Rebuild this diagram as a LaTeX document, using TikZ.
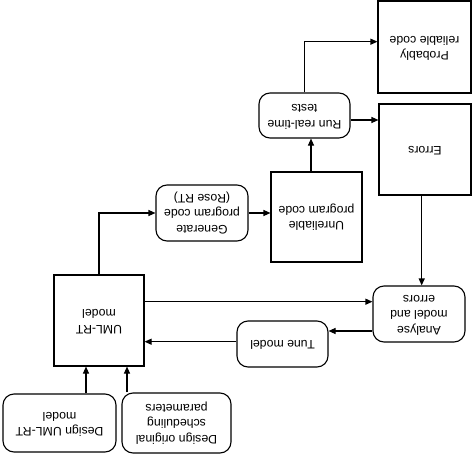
\documentclass[tikz,border=0pt]{standalone}
\usepackage{fontspec}
\setmainfont{Liberation Sans}
\usepackage{graphicx}
\usetikzlibrary{arrows.meta}
\newcommand{\flip}[1]{\rotatebox[origin=c]{180}{\begin{tabular}{@{}c@{}}#1\end{tabular}}}
\tikzset{
  box/.style={draw, line width=1.1pt, rectangle, inner sep=0pt, font=\fontsize{12.3}{15.5}\selectfont},
  rbox/.style={box, rounded corners=11pt},
  arr/.style={line width=1.1pt, -{Triangle[length=7pt,width=6pt]}}
}
\begin{document}
\begin{tikzpicture}[x=1pt,y=-1pt]
\useasboundingbox (0,0) rectangle (474,455);
\node[box, minimum width=90pt, minimum height=91pt] (uml) at (99,320.5) {\flip{UML-RT\\model}};
\node[rbox, minimum width=113pt, minimum height=58pt] (dum) at (59.5,423) {\flip{Design UML-RT\\model}};
\node[rbox, minimum width=109pt, minimum height=60pt] (dos) at (176.5,423) {\flip{Design original\\scheduling\\parameters}};
\node[rbox, minimum width=92pt, minimum height=56pt] (ana) at (419,314) {\flip{Analyse\\model and\\errors}};
\node[rbox, minimum width=91pt, minimum height=46pt] (tune) at (282.5,344) {\flip{Tune model}};
\node[rbox, minimum width=92pt, minimum height=56pt] (gen) at (202,213) {\flip{Generate\\program code\\(Rose RT)}};
\node[box, minimum width=91pt, minimum height=90pt] (unr) at (316.5,217) {\flip{Unreliable\\program code}};
\node[rbox, minimum width=91pt, minimum height=45pt] (run) at (304.5,115.5) {\flip{Run real-time\\tests}};
\node[box, minimum width=92pt, minimum height=91pt] (err) at (425,149.5) {\flip{Errors}};
\node[box, minimum width=93pt, minimum height=92pt] (prob) at (424.5,47) {\flip{Probably\\reliable code}};

\draw[arr] ([xshift=26.5pt]dum.north) -- ([xshift=26.5pt]dum.north |- uml.south);
\draw[arr] ([xshift=-49.5pt]dos.north) -- ([xshift=-49.5pt]dos.north |- uml.south);
\draw[arr] (uml.north) |- (gen.west);
\draw[arr] (gen.east) -- (gen.east -| unr.west);
\draw[arr] ([xshift=-5.5pt]unr.north) -- ([xshift=-5.5pt]unr.north |- run.south);
\draw[arr] (run.north) |- ([yshift=5.3pt]prob.west);
\draw[arr] ([yshift=-4.5pt]run.east) -- ([yshift=-4.5pt]run.east -| err.west);
\draw[arr] ([xshift=-3.3pt]err.south) -- ([xshift=-3.3pt]err.south |- ana.north);
\draw[arr] ([yshift=18.8pt]uml.east) -- ([yshift=18.8pt]uml.east -| ana.west);
\draw[arr] ([yshift=-17pt]ana.west) -- ([yshift=-17pt]ana.west -| tune.east);
\draw[arr] ([yshift=2.3pt]tune.west) -- ([yshift=2.3pt]tune.west -| uml.east);
\end{tikzpicture}
\end{document}
